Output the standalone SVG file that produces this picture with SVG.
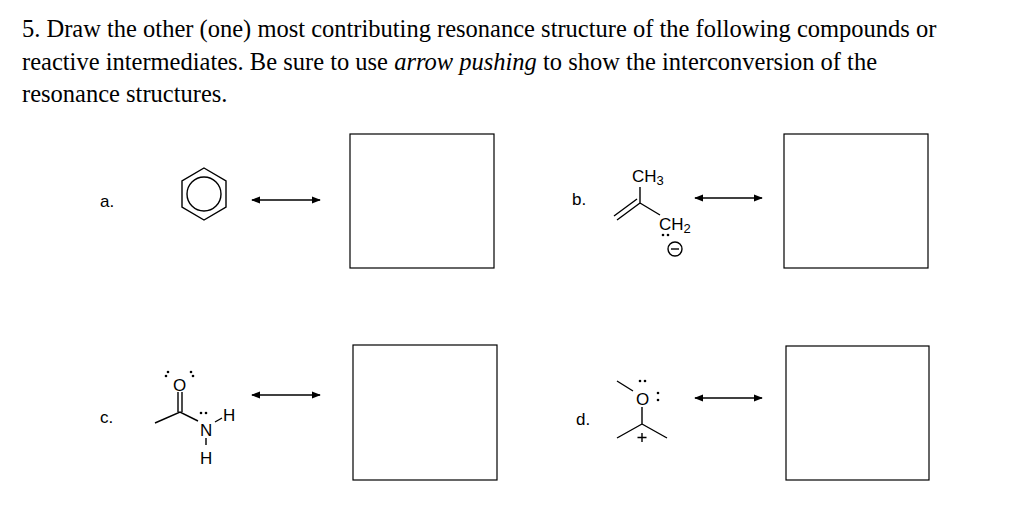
<svg xmlns="http://www.w3.org/2000/svg" width="1024" height="532" viewBox="0 0 1024 532">
<defs>
<marker id="ah" viewBox="0 0 10 10" refX="9" refY="5" markerWidth="9" markerHeight="9" markerUnits="userSpaceOnUse" orient="auto-start-reverse"><path d="M0,1 L10,5 L0,9 z" fill="#000"/></marker>
</defs>
<style>
.t{font-family:"Liberation Serif",serif;font-size:24.5px}
.s{font-family:"Liberation Sans",sans-serif;font-size:17px}
.b{stroke:#000;stroke-width:1.4;fill:none}
.box{fill:none;stroke:#000;stroke-width:1.2}
</style>
<rect width="1024" height="532" fill="#fff"/>
<text class="t" x="22" y="37">5. Draw the other (one) most contributing resonance structure of the following compounds or</text>
<text class="t" x="22" y="70">reactive intermediates. Be sure to use <tspan font-style="italic">arrow pushing</tspan> to show the interconversion of the</text>
<text class="t" x="22" y="102">resonance structures.</text>
<g id="a"><text class="s" x="100" y="207">a.</text>
<polygon class="b" points="204,168 226,181 226,207 204,220 182,207 182,181"/>
<circle class="b" cx="204" cy="194" r="17"/></g>
<g id="b"><text class="s" x="572" y="205">b.</text>
<path class="b" d="M640,203 V187 M640,203 L617,220 M637,199 L614,216 M640,203 L660,215"/>
<text class="s" x="632" y="182">CH<tspan font-size="13" dy="3">3</tspan></text>
<text class="s" x="659" y="230">CH<tspan font-size="13" dy="3">2</tspan></text>
<circle cx="663" cy="235" r="1.3"/><circle cx="668" cy="235" r="1.3"/>
<circle class="b" cx="675" cy="249" r="7" stroke-width="1"/><path class="b" d="M671,249 H679" stroke-width="1"/></g>
<g id="c"><text class="s" x="100" y="423">c.</text>
<path class="b" d="M155,423 L180,412 L198,421 M178,412 V392 M182,412 V392 M215,422 L222,418 M206,438 V445"/>
<text class="s" x="173" y="391">O</text>
<circle cx="166" cy="376" r="1.3"/><circle cx="168" cy="372" r="1.3"/><circle cx="191" cy="372" r="1.3"/><circle cx="193" cy="376" r="1.3"/>
<text class="s" x="200" y="436">N</text>
<circle cx="201" cy="413" r="1.3"/><circle cx="206" cy="413" r="1.3"/>
<text class="s" x="223" y="421">H</text>
<text class="s" x="200" y="464">H</text></g>
<g id="d"><text class="s" x="576" y="425">d.</text>
<path class="b" d="M617,381 L633,391 M642,407 V424 M642,424 L617,438 M642,424 L667,438 M642,433 V442 M637.5,437.5 H646.5"/>
<text class="s" x="636" y="405">O</text>
<circle cx="640" cy="381" r="1.3"/><circle cx="645" cy="381" r="1.3"/><circle cx="658" cy="393" r="1.3"/><circle cx="658" cy="400" r="1.3"/></g>
<g id="connectors">
<path class="b" d="M252,200 H320" marker-start="url(#ah)" marker-end="url(#ah)"/>
<path class="b" d="M695,198 H762" marker-start="url(#ah)" marker-end="url(#ah)"/>
<path class="b" d="M252,395 H320" marker-start="url(#ah)" marker-end="url(#ah)"/>
<path class="b" d="M695,398 H762" marker-start="url(#ah)" marker-end="url(#ah)"/>
</g>
<g id="boxes">
<rect class="box" x="350" y="134" width="144" height="134"/>
<rect class="box" x="784" y="134" width="144" height="134"/>
<rect class="box" x="353" y="345" width="144" height="135"/>
<rect class="box" x="786" y="346" width="143" height="134"/>
</g>
</svg>
